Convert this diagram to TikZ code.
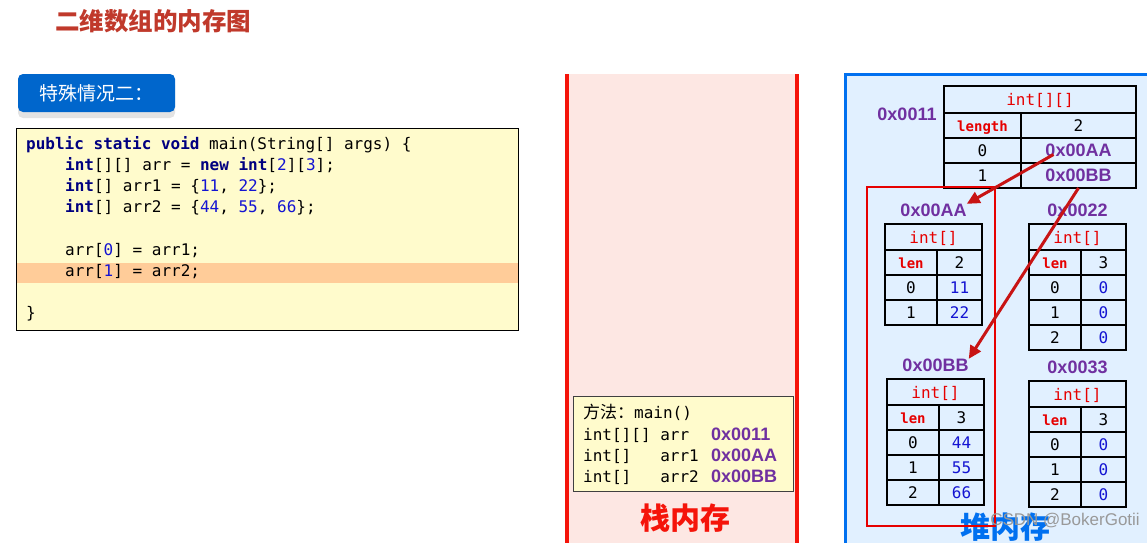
\documentclass[tikz,border=0pt]{standalone}
\usepackage{fontspec}
\usepackage{xcolor}
\usepackage{tikz}
\usetikzlibrary{arrows.meta,positioning,calc}
\setmainfont{Liberation Sans}
\newfontfamily\cjk{Noto Sans CJK SC}
\newfontfamily\mono{DejaVu Sans Mono}
\definecolor{titred}{RGB}{192,57,43}
\definecolor{btnblue}{RGB}{0,102,204}
\definecolor{codebg}{RGB}{255,251,204}
\definecolor{hilite}{RGB}{255,204,153}
\definecolor{kwnavy}{RGB}{0,0,128}
\definecolor{numblue}{RGB}{20,20,210}
\definecolor{stackbg}{RGB}{253,231,227}
\definecolor{stackred}{RGB}{245,20,10}
\definecolor{heapbg}{RGB}{225,240,255}
\definecolor{heapblue}{RGB}{0,112,240}
\definecolor{purp}{RGB}{112,48,160}
\definecolor{tabred}{RGB}{230,0,0}
\definecolor{ptrred}{RGB}{200,20,20}
\newcommand{\kw}[1]{\textcolor{kwnavy}{\bfseries #1}}
\newcommand{\nm}[1]{\textcolor{numblue}{#1}}

\begin{document}
\begin{tikzpicture}[x=1pt,y=-1pt,
codeln/.style={anchor=base west,inner sep=0,font=\mono\fontsize{16}{19}\selectfont},
cell/.style={draw=black,line width=2.5pt,inner sep=0,outer sep=0,minimum height=25pt,text height=12pt,text depth=0pt,font=\mono\fontsize{16}{19}\selectfont},
hdcell/.style={cell,minimum height=26pt,text=tabred},
keycell/.style={cell,text=tabred,font=\mono\bfseries\fontsize{14}{17}\selectfont},
numcell/.style={cell,text=numblue},
kcol/.style={minimum width=52pt},
vcol/.style={minimum width=45pt},
addr/.style={inner sep=0,text=purp,font=\bfseries\fontsize{18}{21}\selectfont},
bigcjk/.style={font=\cjk\bfseries\fontsize{30}{34}\selectfont},
ptr/.style={-{Triangle[length=13pt,width=12pt]},line width=3pt,draw=ptrred}
]
\useasboundingbox (0,0) rectangle (1147,542);
\clip (0,0) rectangle (1147,542);

% title and tag
\node[anchor=west,inner sep=0,text=titred,font=\cjk\bfseries\fontsize{24.5}{28}\selectfont] (title) at (55,21) {二维数组的内存图};
\fill[gray!22,rounded corners=5pt] (18,80) rectangle (175,118);
\node[fill=btnblue,rounded corners=5pt,minimum width=157pt,minimum height=38pt,inner sep=0,text=white,font=\cjk\fontsize{19}{22}\selectfont] (tag) at (96.5,93) {特殊情况二：};

% source code
\draw[fill=codebg,line width=1pt] (16,128) rectangle (518,330);
\fill[hilite] (16.5,262.7) rectangle (517.5,283.3);
\node[codeln] (c1) at (26,149) {\kw{public static void} main(String[] args) \{};
\node[codeln] (c2) at (65,170.2) {\kw{int}[][] arr = \kw{new} \kw{int}[\nm{2}][\nm{3}];};
\node[codeln] (c3) at (65,191.4) {\kw{int}[] arr1 = \{\nm{11}, \nm{22}\};};
\node[codeln] (c4) at (65,212.6) {\kw{int}[] arr2 = \{\nm{44}, \nm{55}, \nm{66}\};};
\node[codeln] (c5) at (65,255) {arr[\nm{0}] = arr1;};
\node[codeln] (c6) at (65,276.2) {arr[\nm{1}] = arr2;};
\node[codeln] (c7) at (26,318.6) {\}};

% stack
\fill[stackbg] (567,74) rectangle (797,560);
\draw[stackred,line width=3.5pt] (567,74) -- (567,560) (797,74) -- (797,560);
\draw[draw=black!75,fill=codebg,line width=0.8pt] (573,396) rectangle (793,491);
\node[codeln] (f0) at (583,418) {{\cjk\fontsize{17}{19}\selectfont 方法：}main()};
\node[codeln] (f1) at (583,440) {int[][] arr};
\node[codeln] (f2) at (583,461) {int[]~~~arr1};
\node[codeln] (f3) at (583,482) {int[]~~~arr2};
\node[addr,anchor=base west] (fa1) at (711,440) {0x0011};
\node[addr,anchor=base west] (fa2) at (711,461) {0x00AA};
\node[addr,anchor=base west] (fa3) at (711,482) {0x00BB};
\node[bigcjk,text=stackred] (stack) at (685,518) {栈内存};

% heap
\fill[heapbg] (845,74) rectangle (1160,560);
\draw[heapblue,line width=3pt] (1160,74) -- (845,74) -- (845,560);
\node[addr] (top-lb) at (907,114) {0x0011};
\node[hdcell,minimum width=192pt,minimum height=27pt] (top-hd) at (1040,99.5) {int[][]};
\node[keycell,minimum width=77pt,below right=0pt and 0pt of top-hd.south west] (top-k0) {length};
\node[cell,minimum width=115pt,right=0pt of top-k0] (top-v0) {2};
\node[cell,minimum width=77pt,below=0pt of top-k0] (top-k1) {0};
\node[cell,addr,draw=black,line width=2.5pt,inner sep=0,minimum width=115pt,right=0pt of top-k1] (top-v1) {0x00AA};
\node[cell,minimum width=77pt,below=0pt of top-k1] (top-k2) {1};
\node[cell,addr,draw=black,line width=2.5pt,inner sep=0,minimum width=115pt,right=0pt of top-k2] (top-v2) {0x00BB};

\foreach \t/\lb/\x/\y/\n/\vals in
  {AA/0x00AA/933.5/237/2/{0/11,1/22},
   22/0x0022/1077.5/237/3/{0/0,1/0,2/0},
   BB/0x00BB/935.5/392/3/{0/44,1/55,2/66},
   33/0x0033/1077.5/394/3/{0/0,1/0,2/0}}
{
  \node[hdcell,minimum width=97pt] (\t-hd) at (\x,\y) {int[]};
  \node[addr,above=7pt of \t-hd] (\t-lb) {\lb};
  \node[keycell,kcol,below right=0pt and 0pt of \t-hd.south west] (\t-len) {len};
  \node[cell,vcol,right=0pt of \t-len] {\n};
  \foreach \k/\v [remember=\k as \p (initially len)] in \vals
  {
    \node[cell,kcol,below=0pt of \t-\p] (\t-\k) {\k};
    \node[numcell,vcol,right=0pt of \t-\k] {\v};
  }
}

\node[bigcjk,text=heapblue] (heap) at (1005,527) {堆内存};
\draw[tabred,line width=2.5pt] (867,187) rectangle (995,526);

\draw[ptr] ($(top-v1.center)+(-25,4)$) -- (AA-lb.north east);
\draw[ptr] (top-v2.south) -- (BB-lb.north east);

\node[text=black!40,font=\fontsize{17}{20}\selectfont] (wm) at (1065,521) {CSDN @BokerGotii};
\end{tikzpicture}
\end{document}
